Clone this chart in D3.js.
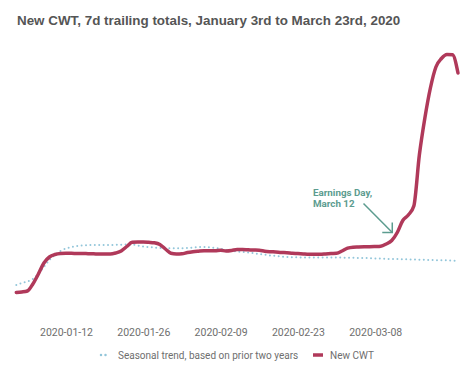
<!DOCTYPE html>
<html>
<head>
<meta charset="utf-8">
<script src="https://cdn.jsdelivr.net/npm/d3@7"></script>
<style>
  html, body { margin: 0; padding: 0; background: #fff; }
  svg { display: block; }
</style>
</head>
<body>
<svg id="chart" width="474" height="378"></svg>
<script>
const startDate = "2020-01-03";
const tickLabels = ["2020-01-12", "2020-01-26", "2020-02-09", "2020-02-23", "2020-03-08"];
const newCWT = [175,180,190,260,360,470,530,555,565,567,567,565,565,563,562,560,560,560,570,590,
  635,677,680,680,677,672,655,610,567,560,562,575,583,588,592,593,592,598,590,595,
  605,605,602,600,598,588,583,580,575,573,567,564,560,557,557,557,560,564,567,590,
  618,628,630,632,633,635,638,660,695,775,895,950,1040,1550,1920,2220,2430,2515,2555,2552,2370];
const seasonal = [250,270,285,310,360,430,500,550,590,615,630,640,645,648,650,650,650,650,652,652,
  655,655,645,635,630,625,620,618,617,617,618,620,625,628,630,627,620,613,600,592,
  585,580,575,568,560,553,545,540,535,530,528,526,525,525,525,525,525,525,525,524,
  523,522,521,520,518,516,514,512,510,509,508,506,505,503,502,500,499,497,496,494,493];
const seriesNames = ["Seasonal trend, based on prior two years", "New CWT"];
const title = "New CWT, 7d trailing totals, January 3rd to March 23rd, 2020";
const annotation = ["Earnings Day,", "March 12"];
const annotationDate = "2020-03-12";

const parse = d3.timeParse("%Y-%m-%d");
const t0 = parse(startDate);
const dates = newCWT.map((_, i) => d3.timeDay.offset(t0, i));

const svg = d3.select("#chart");
const x = d3.scaleTime().domain([dates[0], dates[dates.length - 1]]).range([16.3, 458]);
const y = d3.scaleLinear().domain([0, 2800]).range([310, 30]);

const red = "#b0395a";
const blue = "#93c6da";
const teal = "#5c9c8f";

svg.append("text")
  .attr("x", 17).attr("y", 25)
  .attr("font-family", "Liberation Sans, Arial, sans-serif")
  .attr("font-weight", "bold").attr("font-size", 13.4)
  .attr("fill", "#555")
  .text(title);

// x axis
const axis = d3.axisBottom(x)
  .tickValues(tickLabels.map(parse))
  .tickFormat(d3.timeFormat("%Y-%m-%d"))
  .tickSize(0).tickPadding(0);
const gx = svg.append("g").attr("transform", "translate(0,329)").call(axis);
gx.select(".domain").remove();
gx.selectAll("text")
  .attr("font-family", "Roboto, sans-serif").attr("font-size", 10.5)
  .attr("fill", "#6e6e6e").attr("dy", "0.71em");

const line = d3.line().x((d, i) => x(dates[i])).y(d => y(d)).curve(d3.curveMonotoneX);

svg.append("path").datum(seasonal)
  .attr("d", line).attr("fill", "none")
  .attr("stroke", blue).attr("stroke-width", 2)
  .attr("stroke-linecap", "round").attr("stroke-dasharray", "0 4.4");

svg.append("path").datum(newCWT)
  .attr("d", line).attr("fill", "none")
  .attr("stroke", red).attr("stroke-width", 3.5)
  .attr("stroke-linejoin", "round").attr("stroke-linecap", "round");

// annotation
const ai = d3.timeDay.count(t0, parse(annotationDate));
const ax = x(dates[ai]) - 5, ay = y(newCWT[ai]);
const at = svg.append("g")
  .attr("font-family", "Roboto, sans-serif").attr("font-weight", "bold")
  .attr("font-size", 9.8).attr("fill", teal);
annotation.forEach((t, i) => {
  at.append("text").attr("x", 313).attr("y", 196 + i * 10.9).text(t);
});
const ag = svg.append("g").attr("stroke", teal).attr("stroke-width", 1.5).attr("fill", "none");
ag.append("line").attr("x1", 363.5).attr("y1", 203.5).attr("x2", ax).attr("y2", ay);
ag.append("path").attr("d", `M${ax - 10},${ay} L${ax},${ay} L${ax},${ay - 10}`);

// legend
const lg = svg.append("g").attr("font-family", "Roboto, sans-serif").attr("font-size", 10).attr("fill", "#6e6e6e");
lg.append("line").attr("x1", 101).attr("x2", 110).attr("y1", 355).attr("y2", 355)
  .attr("stroke", blue).attr("stroke-width", 2.5).attr("stroke-linecap", "round").attr("stroke-dasharray", "0 4.5");
lg.append("text").attr("x", 118).attr("y", 358.5).text(seriesNames[0]);
lg.append("line").attr("x1", 313).attr("x2", 323).attr("y1", 355).attr("y2", 355)
  .attr("stroke", red).attr("stroke-width", 3.5);
lg.append("text").attr("x", 330).attr("y", 358.5).text(seriesNames[1]);
</script>
</body>
</html>
